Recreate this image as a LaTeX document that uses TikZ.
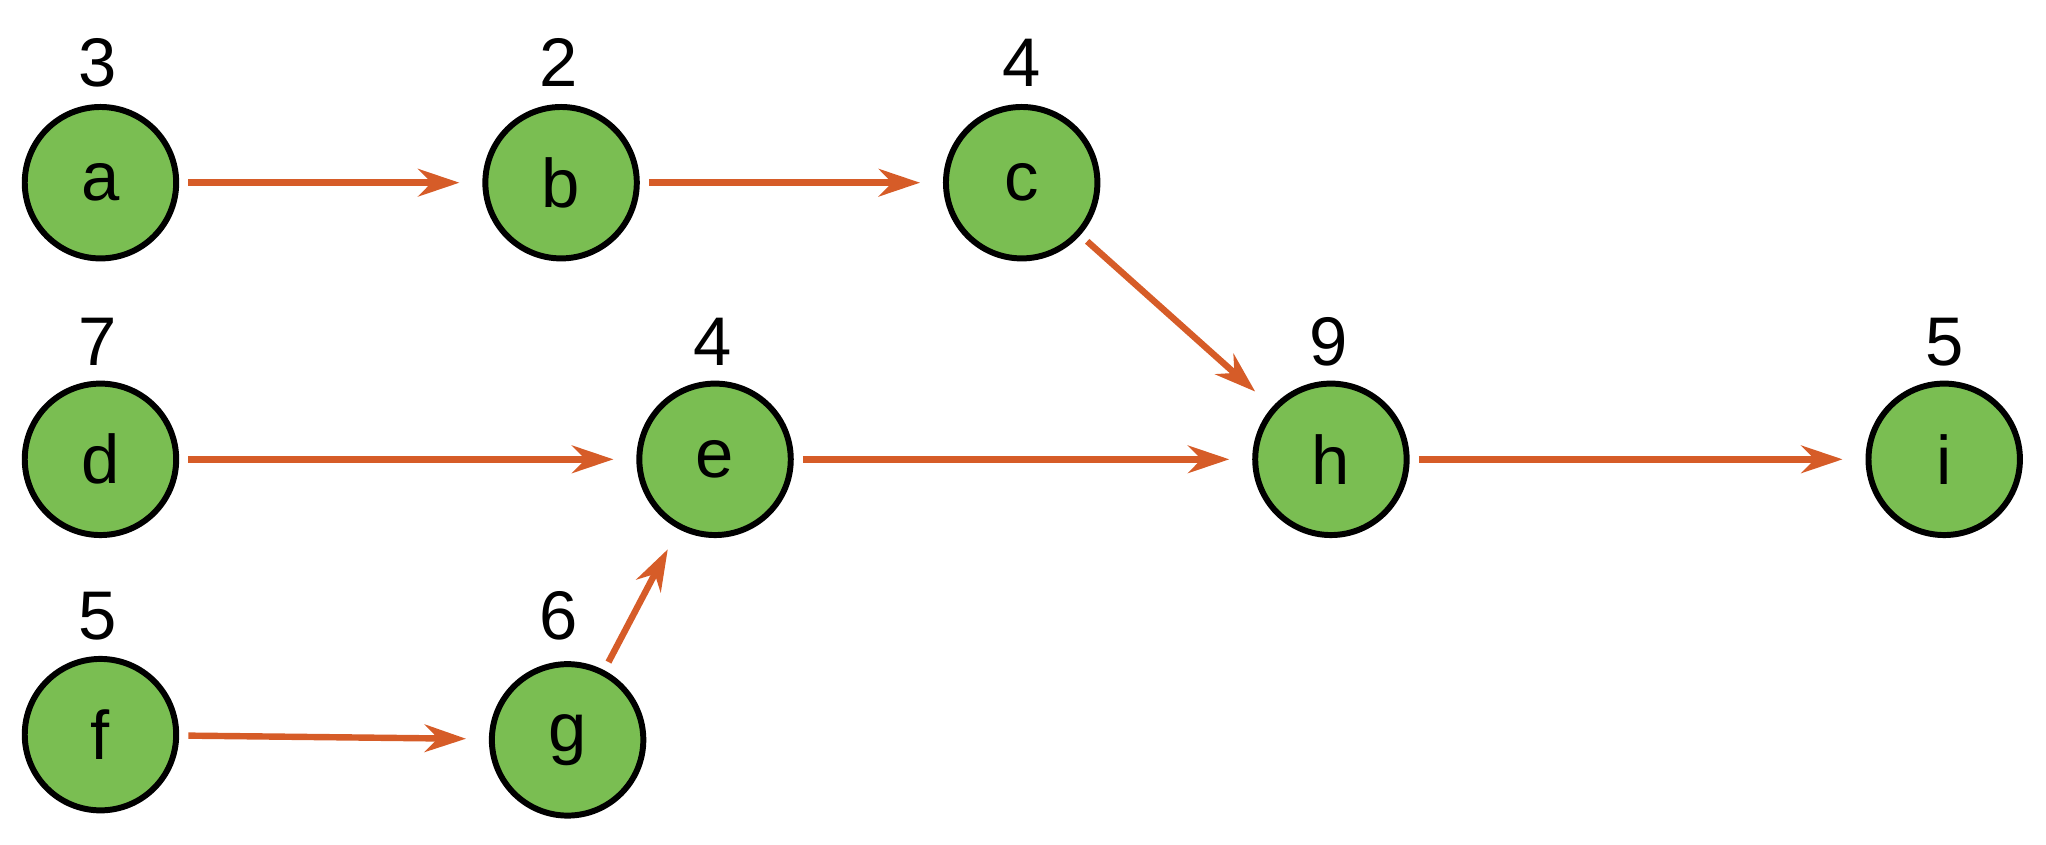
\documentclass[tikz,border=0pt]{standalone}
\usepackage{fontspec}
\setmainfont{Liberation Sans}
\usetikzlibrary{arrows.meta}
\definecolor{nodegreen}{RGB}{122,190,82}
\definecolor{arrorange}{RGB}{214,92,40}
\tikzset{
  vert/.style={circle,draw=black,line width=1.3pt,fill=nodegreen,minimum size=1.16cm,inner sep=0pt,font=\fontsize{15}{15}\selectfont},
  wlab/.style={font=\fontsize{15}{15}\selectfont},
  arr/.style={draw=arrorange,line width=1.4pt,-{Stealth[length=9pt,width=6pt]},shorten >=5pt,shorten <=2pt}
}
\begin{document}
\begin{tikzpicture}[x=0.01cm,y=-0.01cm]
\useasboundingbox (0,0) rectangle (1568,647);
\node[vert] (a) at (77,140) {a};
\node[vert] (b) at (430,140) {b};
\node[vert] (c) at (783,140) {c};
\node[vert] (d) at (77,352) {d};
\node[vert] (e) at (548,352) {e};
\node[vert] (h) at (1020,352) {h};
\node[vert] (i) at (1490,352) {i};
\node[vert] (f) at (77,563) {f};
\node[vert] (g) at (435,567) {g};
\node[wlab] (la) at (75,48) {3};
\node[wlab] (lb) at (428,48) {2};
\node[wlab] (lc) at (783,48) {4};
\node[wlab] (ld) at (75,262) {7};
\node[wlab] (le) at (546,262) {4};
\node[wlab] (lh) at (1018,262) {9};
\node[wlab] (li) at (1490,262) {5};
\node[wlab] (lf) at (75,472) {5};
\node[wlab] (lg) at (428,472) {6};
\draw[arr] (a) -- (b);
\draw[arr] (b) -- (c);
\draw[arr] (c) -- (h);
\draw[arr] (d) -- (e);
\draw[arr] (e) -- (h);
\draw[arr] (h) -- (i);
\draw[arr] (f) -- (g);
\draw[arr] (g) -- (e);
\end{tikzpicture}
\end{document}
